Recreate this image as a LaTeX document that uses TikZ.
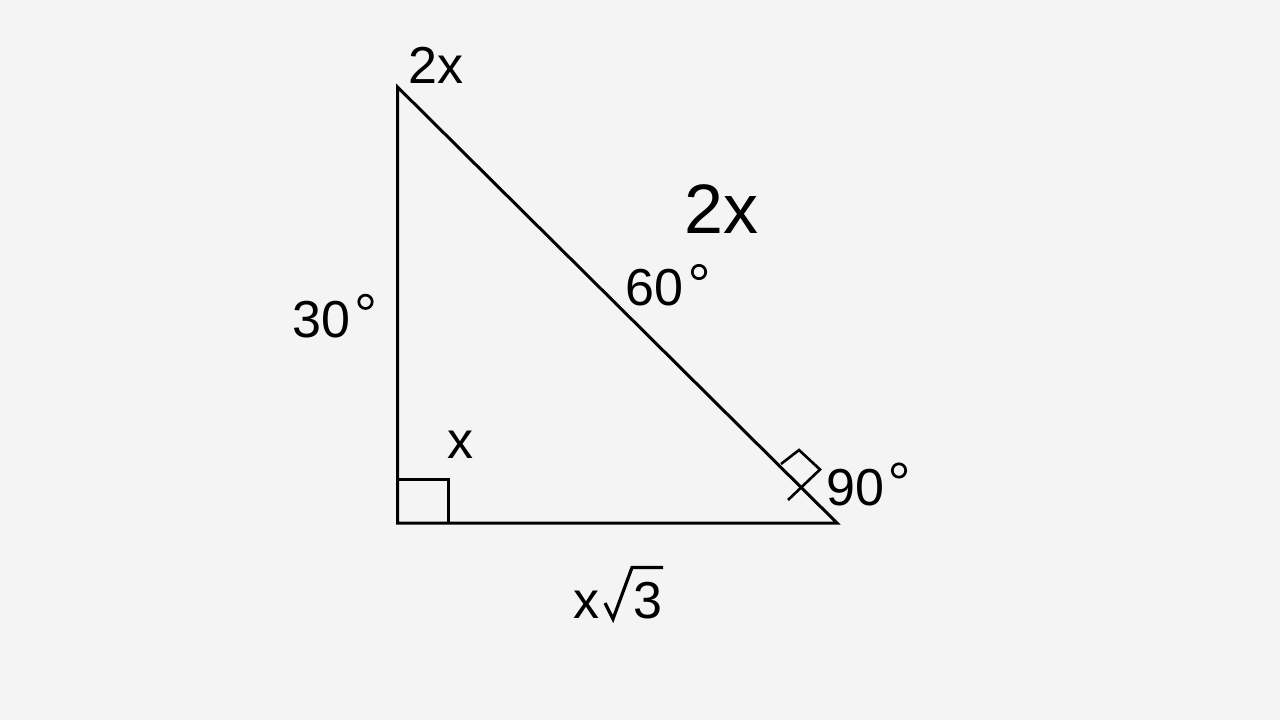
\documentclass[tikz,border=0pt]{standalone}
\usepackage{fontspec}
\setmainfont{Liberation Sans}
\begin{document}
\begin{tikzpicture}[x=1pt,y=-1pt,
  lbl/.style={inner sep=0pt,anchor=base west,font=\fontsize{52}{60}\selectfont},
  biglbl/.style={inner sep=0pt,anchor=base west,font=\fontsize{70}{80}\selectfont},
  edgeline/.style={line width=3pt,line join=miter},
  boxline/.style={line width=2.6pt},
  degring/.style={line width=2.7pt}]
\fill[fill={rgb,255:red,244;green,244;blue,244}] (0,0) rectangle (1280,720);
\useasboundingbox (0,0) rectangle (1280,720);
\coordinate (A) at (397.5,87);
\coordinate (B) at (397.5,523);
\coordinate (C) at (837,523);
\draw[edgeline] (A) -- (B) -- (C) -- cycle;
% right-angle box at B
\coordinate (r1) at (397.5,479.5);
\coordinate (r2) at (448.5,479.5);
\coordinate (r3) at (448.5,523);
\draw[boxline] (r1) -- (r2) -- (r3);
% small box near C
\coordinate (s1) at (781,464);
\coordinate (s2) at (799,450);
\coordinate (s3) at (820,469.5);
\coordinate (s4) at (788,500);
\draw[boxline] (s1) -- (s2) -- (s3) -- (s4);
% labels
\node[lbl] (t2x) at (408,83) {2x};
\node[biglbl] (big2x) at (684,233) {2x};
\node[lbl] (a30) at (292,337) {30};
\node[lbl] (a60) at (625,305) {60};
\node[lbl] (a90) at (826,505) {90};
\draw[degring] (365.5,301.8) circle[radius=6.7];
\draw[degring] (699,272) circle[radius=6.7];
\draw[degring] (899,470.5) circle[radius=6.7];
\node[lbl] (sx) at (447,458) {x};
\node[lbl] (bx) at (573,618) {x};
\node[lbl] (b3) at (633,618) {3};
\coordinate (q1) at (605,603);
\coordinate (q2) at (613,619);
\coordinate (q3) at (632,567.5);
\coordinate (q4) at (663,567.5);
\draw[line width=3.2pt,line join=miter] (q1) -- (q2) -- (q3) -- (q4);
\end{tikzpicture}
\end{document}
